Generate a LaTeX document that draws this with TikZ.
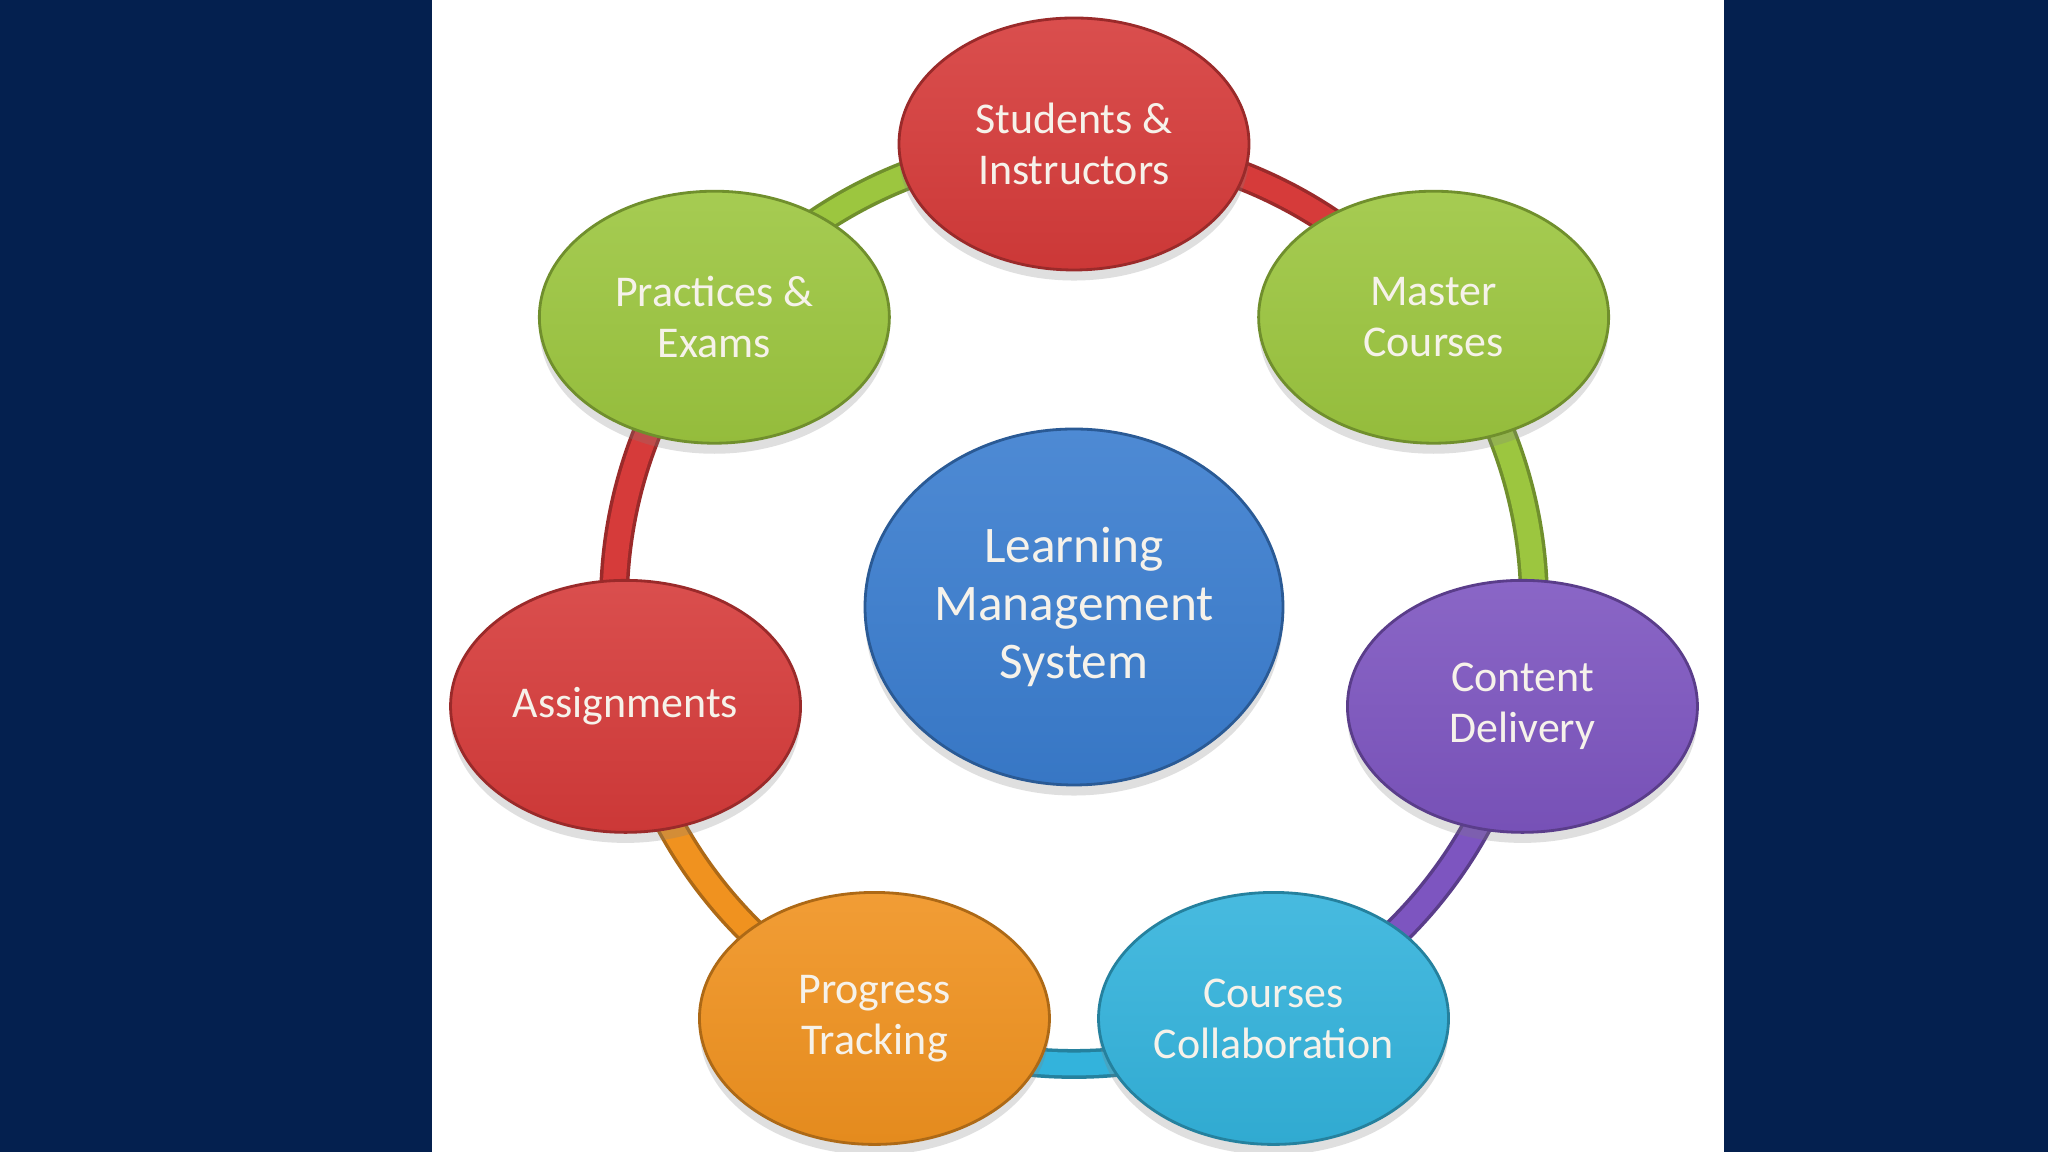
\documentclass[tikz,border=0pt]{standalone}
\usepackage{fontspec}
\setmainfont{Carlito}
\usetikzlibrary{shapes.geometric,positioning,calc,backgrounds,shadows}

\definecolor{navy}{HTML}{04204F}
\definecolor{lmsred}{HTML}{D63B3A}
\definecolor{lmsgreen}{HTML}{9CC63F}
\definecolor{lmspurple}{HTML}{7D55C0}
\definecolor{lmscyan}{HTML}{33B3DC}
\definecolor{lmsorange}{HTML}{F0921F}
\definecolor{lmsblue}{HTML}{3A7DCF}
\definecolor{lmstext}{HTML}{F6F2EA}

\begin{document}
\begin{tikzpicture}[
    ball/.style={ellipse, draw=#1!72!black, line width=0.8pt, top color=#1!90!white, bottom color=#1!95!black,
        minimum width=3.5cm, minimum height=2.52cm, inner sep=0pt, align=center, text=lmstext,
        font=\fontsize{12.5}{14.5}\selectfont,
        drop shadow={shadow xshift=0pt, shadow yshift=-3pt, opacity=0.25}},
    hubball/.style={ball=lmsblue, minimum width=4.18cm, minimum height=3.56cm, font=\fontsize{14.6}{16.5}\selectfont},
    link/.style={draw=#1!72!black, line width=1pt, double=#1, double distance=6.5pt},
]
\useasboundingbox (0,0) rectangle (20.48,11.52);
\coordinate (hub) at (10.74,5.48);

% Centre
\node[hubball] (lms) at (10.74,5.45) {Learning\\Management\\System};

% Ring of modules
\node[ball=lmsred] (stu) at ($(hub)+(90:4.6)$) {Students \&\\Instructors};
\node[ball=lmsgreen] (mas) at ($(hub)+(38.57:4.6)$) {Master\\Courses};
\node[ball=lmspurple] (con) at ($(hub)+(-12.86:4.6)$) {Content\\Delivery};
\node[ball=lmscyan] (col) at ($(hub)+(-64.29:4.6)$) {Courses\\Collaboration};
\node[ball=lmsorange] (pro) at ($(hub)+(-115.71:4.6)$) {Progress\\Tracking};
\node[ball=lmsred] (asg) at ($(hub)+(192.86:4.6)$) {Assignments};
\node[ball=lmsgreen] (pra) at ($(hub)+(141.43:4.6)$) {Practices \&\\Exams};

% Panel and ring links
\begin{scope}[on background layer]
\fill[navy] (0,0) rectangle (20.48,11.52);
\fill[white] (4.32,0) rectangle (17.24,11.52);
\draw[link=lmsred] (stu.center) to[bend left=25.7, looseness=0.9] (mas.center);
\draw[link=lmsgreen] (mas.center) to[bend left=25.7, looseness=0.9] (con.center);
\draw[link=lmspurple] (con.center) to[bend left=25.7, looseness=0.9] (col.center);
\draw[link=lmscyan] (col.center) to[bend left=25.7, looseness=0.9] (pro.center);
\draw[link=lmsorange] (pro.center) to[bend left=25.7, looseness=0.9] (asg.center);
\draw[link=lmsred] (asg.center) to[bend left=25.7, looseness=0.9] (pra.center);
\draw[link=lmsgreen] (pra.center) to[bend left=25.7, looseness=0.9] (stu.center);
\end{scope}

\end{tikzpicture}
\end{document}
